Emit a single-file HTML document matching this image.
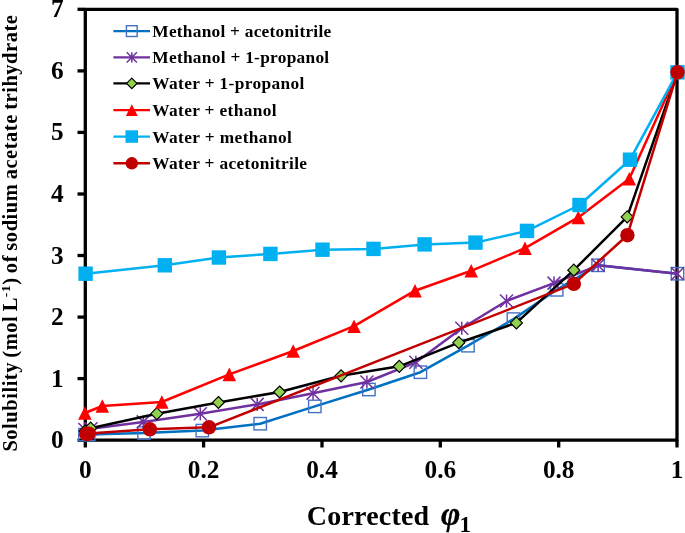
<!DOCTYPE html>
<html><head><meta charset="utf-8"><title>Solubility chart</title>
<style>html,body{margin:0;padding:0;background:#fff}body{width:685px;height:533px;overflow:hidden}</style></head>
<body>
<svg width="685" height="533" viewBox="0 0 685 533" style="display:block">
<rect width="685" height="533" fill="#fff"/>
<rect x="85.3" y="9.3" width="591.7" height="430.9" fill="none" stroke="#000" stroke-width="3.3" stroke-linejoin="round"/>
<line x1="77.5" x2="85.3" y1="440.2" y2="440.2" stroke="#000" stroke-width="3.3"/>
<line x1="77.5" x2="85.3" y1="378.6" y2="378.6" stroke="#000" stroke-width="3.3"/>
<line x1="77.5" x2="85.3" y1="317.1" y2="317.1" stroke="#000" stroke-width="3.3"/>
<line x1="77.5" x2="85.3" y1="255.5" y2="255.5" stroke="#000" stroke-width="3.3"/>
<line x1="77.5" x2="85.3" y1="194.0" y2="194.0" stroke="#000" stroke-width="3.3"/>
<line x1="77.5" x2="85.3" y1="132.4" y2="132.4" stroke="#000" stroke-width="3.3"/>
<line x1="77.5" x2="85.3" y1="70.9" y2="70.9" stroke="#000" stroke-width="3.3"/>
<line x1="77.5" x2="85.3" y1="9.3" y2="9.3" stroke="#000" stroke-width="3.3"/>
<line x1="85.3" x2="85.3" y1="440.2" y2="447.5" stroke="#000" stroke-width="3.3"/>
<line x1="203.6" x2="203.6" y1="440.2" y2="447.5" stroke="#000" stroke-width="3.3"/>
<line x1="322.0" x2="322.0" y1="440.2" y2="447.5" stroke="#000" stroke-width="3.3"/>
<line x1="440.3" x2="440.3" y1="440.2" y2="447.5" stroke="#000" stroke-width="3.3"/>
<line x1="558.7" x2="558.7" y1="440.2" y2="447.5" stroke="#000" stroke-width="3.3"/>
<line x1="677.0" x2="677.0" y1="440.2" y2="447.5" stroke="#000" stroke-width="3.3"/>
<g font-family="'Liberation Serif',serif" font-weight="bold" font-size="25.3" fill="#000">
<text x="63.6" y="448.2" text-anchor="end">0</text>
<text x="63.6" y="386.6" text-anchor="end">1</text>
<text x="63.6" y="325.1" text-anchor="end">2</text>
<text x="63.6" y="263.5" text-anchor="end">3</text>
<text x="63.6" y="202.0" text-anchor="end">4</text>
<text x="63.6" y="140.4" text-anchor="end">5</text>
<text x="63.6" y="78.9" text-anchor="end">6</text>
<text x="63.6" y="17.3" text-anchor="end">7</text>
<text x="85.3" y="477.6" text-anchor="middle">0</text>
<text x="203.6" y="477.6" text-anchor="middle">0.2</text>
<text x="322.0" y="477.6" text-anchor="middle">0.4</text>
<text x="440.3" y="477.6" text-anchor="middle">0.6</text>
<text x="558.7" y="477.6" text-anchor="middle">0.8</text>
<text x="677.0" y="477.6" text-anchor="middle">1</text>
</g>
<polyline fill="none" stroke="#0070C0" stroke-width="2.5" stroke-linejoin="round" stroke-linecap="round" points="85.0,434.6 88.7,434.4 144.0,433.0 202.3,430.6 260.2,423.7 314.8,406.4 368.9,389.5 420.4,372.2 468.0,345.7 513.4,319.1 556.7,289.8 598.1,265.3 677.5,273.7"/>
<rect x="78.8" y="428.4" width="12.4" height="12.4" fill="none" stroke="#4472C4" stroke-width="1.4"/>
<rect x="82.5" y="428.2" width="12.4" height="12.4" fill="none" stroke="#4472C4" stroke-width="1.4"/>
<rect x="137.8" y="426.8" width="12.4" height="12.4" fill="none" stroke="#4472C4" stroke-width="1.4"/>
<rect x="196.1" y="424.4" width="12.4" height="12.4" fill="none" stroke="#4472C4" stroke-width="1.4"/>
<rect x="254.0" y="417.5" width="12.4" height="12.4" fill="none" stroke="#4472C4" stroke-width="1.4"/>
<rect x="308.6" y="400.2" width="12.4" height="12.4" fill="none" stroke="#4472C4" stroke-width="1.4"/>
<rect x="362.7" y="383.3" width="12.4" height="12.4" fill="none" stroke="#4472C4" stroke-width="1.4"/>
<rect x="414.2" y="366.0" width="12.4" height="12.4" fill="none" stroke="#4472C4" stroke-width="1.4"/>
<rect x="461.8" y="339.5" width="12.4" height="12.4" fill="none" stroke="#4472C4" stroke-width="1.4"/>
<rect x="507.2" y="312.9" width="12.4" height="12.4" fill="none" stroke="#4472C4" stroke-width="1.4"/>
<rect x="550.5" y="283.6" width="12.4" height="12.4" fill="none" stroke="#4472C4" stroke-width="1.4"/>
<rect x="591.9" y="259.1" width="12.4" height="12.4" fill="none" stroke="#4472C4" stroke-width="1.4"/>
<rect x="671.3" y="267.5" width="12.4" height="12.4" fill="none" stroke="#4472C4" stroke-width="1.4"/>
<polyline fill="none" stroke="#7030A0" stroke-width="2.5" stroke-linejoin="round" stroke-linecap="round" points="84.9,429.5 91.0,428.8 143.2,421.9 200.3,413.7 257.2,404.4 313.0,393.2 366.9,382.0 415.9,362.3 461.8,328.3 506.5,301.0 554.0,283.1 598.1,265.3 677.5,273.7"/>
<path d="M84.9 423.0V436.0M78.4 423.0L91.4 436.0M78.4 436.0L91.4 423.0" stroke="#7030A0" stroke-width="1.5" fill="none"/>
<path d="M91.0 422.3V435.3M84.5 422.3L97.5 435.3M84.5 435.3L97.5 422.3" stroke="#7030A0" stroke-width="1.5" fill="none"/>
<path d="M143.2 415.4V428.4M136.7 415.4L149.7 428.4M136.7 428.4L149.7 415.4" stroke="#7030A0" stroke-width="1.5" fill="none"/>
<path d="M200.3 407.2V420.2M193.8 407.2L206.8 420.2M193.8 420.2L206.8 407.2" stroke="#7030A0" stroke-width="1.5" fill="none"/>
<path d="M257.2 397.9V410.9M250.7 397.9L263.7 410.9M250.7 410.9L263.7 397.9" stroke="#7030A0" stroke-width="1.5" fill="none"/>
<path d="M313.0 386.7V399.7M306.5 386.7L319.5 399.7M306.5 399.7L319.5 386.7" stroke="#7030A0" stroke-width="1.5" fill="none"/>
<path d="M366.9 375.5V388.5M360.4 375.5L373.4 388.5M360.4 388.5L373.4 375.5" stroke="#7030A0" stroke-width="1.5" fill="none"/>
<path d="M415.9 355.8V368.8M409.4 355.8L422.4 368.8M409.4 368.8L422.4 355.8" stroke="#7030A0" stroke-width="1.5" fill="none"/>
<path d="M461.8 321.8V334.8M455.3 321.8L468.3 334.8M455.3 334.8L468.3 321.8" stroke="#7030A0" stroke-width="1.5" fill="none"/>
<path d="M506.5 294.5V307.5M500.0 294.5L513.0 307.5M500.0 307.5L513.0 294.5" stroke="#7030A0" stroke-width="1.5" fill="none"/>
<path d="M554.0 276.6V289.6M547.5 276.6L560.5 289.6M547.5 289.6L560.5 276.6" stroke="#7030A0" stroke-width="1.5" fill="none"/>
<path d="M598.1 258.8V271.8M591.6 258.8L604.6 271.8M591.6 271.8L604.6 258.8" stroke="#7030A0" stroke-width="1.5" fill="none"/>
<path d="M677.5 267.2V280.2M671.0 267.2L684.0 280.2M671.0 280.2L684.0 267.2" stroke="#7030A0" stroke-width="1.5" fill="none"/>
<polyline fill="none" stroke="#000000" stroke-width="2.5" stroke-linejoin="round" stroke-linecap="round" points="85.1,431.0 90.6,428.2 156.8,413.7 218.4,402.5 279.6,392.0 341.1,375.8 399.3,366.3 458.8,342.7 516.4,322.9 573.8,270.2 627.2,216.9 677.5,72.3"/>
<path d="M85.1 425.0L91.1 431.0L85.1 437.0L79.1 431.0Z" fill="#92D050" stroke="#000" stroke-width="1.2"/>
<path d="M90.6 422.2L96.6 428.2L90.6 434.2L84.6 428.2Z" fill="#92D050" stroke="#000" stroke-width="1.2"/>
<path d="M156.8 407.7L162.8 413.7L156.8 419.7L150.8 413.7Z" fill="#92D050" stroke="#000" stroke-width="1.2"/>
<path d="M218.4 396.5L224.4 402.5L218.4 408.5L212.4 402.5Z" fill="#92D050" stroke="#000" stroke-width="1.2"/>
<path d="M279.6 386.0L285.6 392.0L279.6 398.0L273.6 392.0Z" fill="#92D050" stroke="#000" stroke-width="1.2"/>
<path d="M341.1 369.8L347.1 375.8L341.1 381.8L335.1 375.8Z" fill="#92D050" stroke="#000" stroke-width="1.2"/>
<path d="M399.3 360.3L405.3 366.3L399.3 372.3L393.3 366.3Z" fill="#92D050" stroke="#000" stroke-width="1.2"/>
<path d="M458.8 336.7L464.8 342.7L458.8 348.7L452.8 342.7Z" fill="#92D050" stroke="#000" stroke-width="1.2"/>
<path d="M516.4 316.9L522.4 322.9L516.4 328.9L510.4 322.9Z" fill="#92D050" stroke="#000" stroke-width="1.2"/>
<path d="M573.8 264.2L579.8 270.2L573.8 276.2L567.8 270.2Z" fill="#92D050" stroke="#000" stroke-width="1.2"/>
<path d="M627.2 210.9L633.2 216.9L627.2 222.9L621.2 216.9Z" fill="#92D050" stroke="#000" stroke-width="1.2"/>
<path d="M677.5 66.3L683.5 72.3L677.5 78.3L671.5 72.3Z" fill="#92D050" stroke="#000" stroke-width="1.2"/>
<polyline fill="none" stroke="#FF0000" stroke-width="2.5" stroke-linejoin="round" stroke-linecap="round" points="84.9,413.0 102.3,406.0 161.8,402.0 229.3,374.4 293.2,351.0 354.0,326.2 415.0,290.7 471.2,270.8 525.0,248.2 578.3,217.4 629.3,178.8 677.5,72.3"/>
<path d="M84.9 406.2L91.7 419.8L78.1 419.8Z" fill="#FF0000"/>
<path d="M102.3 399.2L109.1 412.8L95.5 412.8Z" fill="#FF0000"/>
<path d="M161.8 395.2L168.6 408.8L155.0 408.8Z" fill="#FF0000"/>
<path d="M229.3 367.6L236.1 381.2L222.5 381.2Z" fill="#FF0000"/>
<path d="M293.2 344.2L300.0 357.8L286.4 357.8Z" fill="#FF0000"/>
<path d="M354.0 319.4L360.8 333.0L347.2 333.0Z" fill="#FF0000"/>
<path d="M415.0 283.9L421.8 297.5L408.2 297.5Z" fill="#FF0000"/>
<path d="M471.2 264.0L478.0 277.6L464.4 277.6Z" fill="#FF0000"/>
<path d="M525.0 241.4L531.8 255.0L518.2 255.0Z" fill="#FF0000"/>
<path d="M578.3 210.6L585.1 224.2L571.5 224.2Z" fill="#FF0000"/>
<path d="M629.3 172.0L636.1 185.6L622.5 185.6Z" fill="#FF0000"/>
<path d="M677.5 65.5L684.3 79.1L670.7 79.1Z" fill="#FF0000"/>
<polyline fill="none" stroke="#00B0F0" stroke-width="2.5" stroke-linejoin="round" stroke-linecap="round" points="85.6,273.7 164.8,265.3 218.9,257.5 270.4,253.9 322.5,249.7 373.5,248.9 424.6,244.4 475.5,242.6 527.0,230.9 579.5,205.0 630.0,159.7 677.5,72.3"/>
<rect x="78.4" y="266.5" width="14.4" height="14.4" fill="#00B0F0"/>
<rect x="157.6" y="258.1" width="14.4" height="14.4" fill="#00B0F0"/>
<rect x="211.7" y="250.3" width="14.4" height="14.4" fill="#00B0F0"/>
<rect x="263.2" y="246.7" width="14.4" height="14.4" fill="#00B0F0"/>
<rect x="315.3" y="242.5" width="14.4" height="14.4" fill="#00B0F0"/>
<rect x="366.3" y="241.7" width="14.4" height="14.4" fill="#00B0F0"/>
<rect x="417.4" y="237.2" width="14.4" height="14.4" fill="#00B0F0"/>
<rect x="468.3" y="235.4" width="14.4" height="14.4" fill="#00B0F0"/>
<rect x="519.8" y="223.7" width="14.4" height="14.4" fill="#00B0F0"/>
<rect x="572.3" y="197.8" width="14.4" height="14.4" fill="#00B0F0"/>
<rect x="622.8" y="152.5" width="14.4" height="14.4" fill="#00B0F0"/>
<rect x="670.3" y="65.1" width="14.4" height="14.4" fill="#00B0F0"/>
<polyline fill="none" stroke="#C00000" stroke-width="2.5" stroke-linejoin="round" stroke-linecap="round" points="86.3,433.9 88.7,433.6 149.9,429.3 209.0,427.3 573.8,283.9 627.4,235.2 677.5,72.3"/>
<circle cx="86.3" cy="433.9" r="7.2" fill="#C00000"/>
<circle cx="88.7" cy="433.6" r="7.2" fill="#C00000"/>
<circle cx="149.9" cy="429.3" r="7.2" fill="#C00000"/>
<circle cx="209.0" cy="427.3" r="7.2" fill="#C00000"/>
<circle cx="573.8" cy="283.9" r="7.2" fill="#C00000"/>
<circle cx="627.4" cy="235.2" r="7.2" fill="#C00000"/>
<circle cx="677.5" cy="72.3" r="7.2" fill="#C00000"/>
<g font-family="'Liberation Serif',serif" font-weight="bold" font-size="17.33" fill="#000">
<line x1="113.4" x2="150" y1="31.1" y2="31.1" stroke="#0070C0" stroke-width="2.4"/>
<rect x="126.4" y="25.7" width="10.8" height="10.8" fill="none" stroke="#4472C4" stroke-width="1.4"/>
<text id="lg0" x="152.3" y="37.0" textLength="178.9" lengthAdjust="spacing">Methanol + acetonitrile</text>
<line x1="113.4" x2="150" y1="57.4" y2="57.4" stroke="#7030A0" stroke-width="2.4"/>
<path d="M131.8 52.3V62.5M126.7 52.3L136.9 62.5M126.7 62.5L136.9 52.3" stroke="#7030A0" stroke-width="1.5" fill="none"/>
<text id="lg1" x="152.3" y="63.3" textLength="176.9" lengthAdjust="spacing">Methanol + 1-propanol</text>
<line x1="113.4" x2="150" y1="83.4" y2="83.4" stroke="#000000" stroke-width="2.4"/>
<path d="M131.8 78.2L137.0 83.4L131.8 88.6L126.6 83.4Z" fill="#92D050" stroke="#000" stroke-width="1.2"/>
<text id="lg2" x="152.3" y="89.3" textLength="152.0" lengthAdjust="spacing">Water + 1-propanol</text>
<line x1="113.4" x2="150" y1="110.1" y2="110.1" stroke="#FF0000" stroke-width="2.4"/>
<path d="M131.8 104.2L137.7 116.0L125.9 116.0Z" fill="#FF0000"/>
<text id="lg3" x="152.3" y="116.0" textLength="124.2" lengthAdjust="spacing">Water + ethanol</text>
<line x1="113.4" x2="150" y1="136.6" y2="136.6" stroke="#00B0F0" stroke-width="2.4"/>
<rect x="125.5" y="130.3" width="12.5" height="12.5" fill="#00B0F0"/>
<text id="lg4" x="152.3" y="142.5" textLength="139.5" lengthAdjust="spacing">Water + methanol</text>
<line x1="113.4" x2="150" y1="163.3" y2="163.3" stroke="#C00000" stroke-width="2.4"/>
<circle cx="131.8" cy="163.3" r="6.2" fill="#C00000"/>
<text id="lg5" x="152.3" y="169.2" textLength="154.7" lengthAdjust="spacing">Water + acetonitrile</text>
</g>
<g font-family="'Liberation Serif',serif" font-weight="bold" fill="#000"><text id="xt" x="306.8" y="524.9" font-size="28" letter-spacing="0.2">Corrected</text><text id="phi" x="440.9" y="524.9" font-size="33" font-style="italic" stroke="#000" stroke-width="0.4">φ</text><text id="sub1" x="459.4" y="531.5" font-size="23">1</text></g>
<text id="yt" transform="translate(17.4,451.6) rotate(-90)" font-family="'Liberation Serif',serif" font-weight="bold" font-size="20.5" word-spacing="-1.3" textLength="436.5" lengthAdjust="spacing">Solubility (mol L<tspan font-size="13.5" dy="-7.5">-1</tspan><tspan dy="7.5">) of sodium acetate trihydrate</tspan></text>
</svg>
</body></html>
